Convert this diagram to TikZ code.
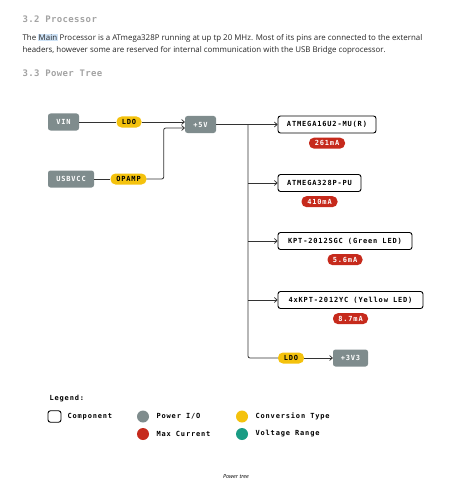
\documentclass[tikz,border=0pt]{standalone}
\usepackage{fontspec}
\setmainfont{Open Sans}
\newfontfamily\diafont[LetterSpace=12]{DejaVu Sans Mono}
\newfontfamily\headfont[LetterSpace=4]{DejaVu Sans Mono}
\definecolor{pwrgray}{HTML}{7F8C8D}
\definecolor{convyellow}{HTML}{F4C20D}
\definecolor{currred}{HTML}{C62A1C}
\definecolor{vrange}{HTML}{1A9C84}
\definecolor{wire}{HTML}{333333}
\definecolor{headgray}{HTML}{A3A3A3}
\definecolor{bodytext}{HTML}{262626}
\definecolor{hlblue}{HTML}{CFE3F7}
\usetikzlibrary{arrows.meta, positioning, calc}
\newcommand{\hilite}[1]{{\setlength{\fboxsep}{0.5pt}\colorbox{hlblue}{#1}}}
\tikzset{
  dfont/.style={font=\diafont\bfseries\fontsize{7}{8}\selectfont},
  pwr/.style={
    dfont, fill=pwrgray, rounded corners=2.5pt, text=white,
    minimum height=17pt, inner sep=0pt
  },
  comp/.style={
    dfont, draw=black, line width=0.9pt, fill=white, rounded corners=2.5pt,
    text=black, minimum height=17pt, inner sep=0pt
  },
  pill/.style={
    dfont, fill=#1, rounded corners=5pt, minimum height=11pt, inner sep=0pt,
    text=black
  },
  pill/.default=convyellow,
  curr/.style={pill=currred, text=white},
  line/.style={line width=0.8pt, color=wire},
  arr/.style={line, -{Straight Barb[length=2.6pt,width=5pt]}},
  head/.style={font=\headfont\bfseries\fontsize{9}{10}\selectfont, text=headgray, anchor=west},
  legtxt/.style={dfont, anchor=west, text=black},
  dot/.style={circle, fill=#1, minimum size=12pt, inner sep=0pt},
}

\begin{document}
\begin{tikzpicture}[x=1pt, y=-1pt]
  \useasboundingbox (0,0) rectangle (452,500);

  % page text
  \node[head] (h32) at (19,19) {3.2 Processor};
  \node[anchor=west, align=left, text=bodytext,
        font=\fontsize{7.9}{12}\selectfont] (para) at (19,44)
    {The \hilite{Main} Processor is a ATmega328P running at up tp 20 MHz. Most of its pins are connected to the external\\
     headers, however some are reserved for internal communication with the USB Bridge coprocessor.};
  \node[head] (h33) at (19,73) {3.3 Power Tree};

  % inputs
  \node[pwr, minimum width=31pt] (vin) at (63.5,122) {VIN};
  \node[pill, minimum width=25pt] (ldoa) at (129,122) {LDO};
  \node[pwr, minimum width=46pt] (usb) at (71,179) {USBVCC};
  \node[pill, minimum width=36pt] (opamp) at (128.5,179) {OPAMP};
  \node[pwr, minimum width=31pt] (fivev) at (200.5,124.5) {+5V};

  % loads
  \node[comp, minimum width=98pt] (atmu) at (327,124.5) {ATMEGA16U2-MU(R)};
  \node[curr, minimum width=36pt, below=4pt of atmu] (iatmu) {261mA};
  \node[comp, minimum width=83pt] (atpu) at (319.5,183) {ATMEGA328P-PU};
  \node[curr, minimum width=36pt, below=4pt of atpu] (iatpu) {410mA};
  \node[comp, minimum width=134pt] (kptg) at (345,241) {KPT-2012SGC (Green LED)};
  \node[curr, minimum width=35pt, below=4pt of kptg] (ikptg) {5.6mA};
  \node[comp, minimum width=145pt] (kpty) at (350.5,300) {4xKPT-2012YC (Yellow LED)};
  \node[curr, minimum width=35pt, below=4pt of kpty] (ikpty) {8.7mA};
  \node[pill, minimum width=26pt] (ldob) at (291,358) {LDO};
  \node[pwr, minimum width=35pt] (v33) at (350.5,358) {+3V3};

  % wiring
  \coordinate (bus) at (248,124.5);
  \draw[arr] (vin) -- (ldoa) -- (ldoa -| fivev.west);
  \draw[line] (usb) -- (opamp);
  \draw[arr, rounded corners=2pt] (opamp.east) -- ++(17,0) |- ([yshift=-3.5pt]fivev.west);
  \draw[arr] (fivev) -- (atmu);
  \draw[line, rounded corners=2pt] (bus) |- (ldob);
  \draw[arr] (ldob) -- (v33);
  \foreach \n in {atpu,kptg,kpty}
    \draw[arr] (bus |- \n) -- (\n);

  % legend
  \node[legtxt] (leg) at (46,399) {Legend:};
  \node[comp, minimum width=13pt, minimum height=11.5pt] (lcomp) at (54.5,416.5) {};
  \node[legtxt] (tcomp) at (64,416.5) {Component};
  \node[dot=pwrgray] (lpwr) at (143,416.5) {};
  \node[legtxt] (tpwr) at (153,416.5) {Power I/O};
  \node[dot=convyellow] (lconv) at (242,416.5) {};
  \node[legtxt] (tconv) at (252,416.5) {Conversion Type};
  \node[dot=currred] (lcurr) at (143,434) {};
  \node[legtxt] (tcurr) at (153,434) {Max Current};
  \node[dot=vrange] (lvr) at (242,434) {};
  \node[legtxt] (tvr) at (252,434) {Voltage Range};

  % caption
  \node[font=\itshape\fontsize{5.5}{6}\selectfont, text=black] (cap) at (236,477) {Power tree};
\end{tikzpicture}
\end{document}
